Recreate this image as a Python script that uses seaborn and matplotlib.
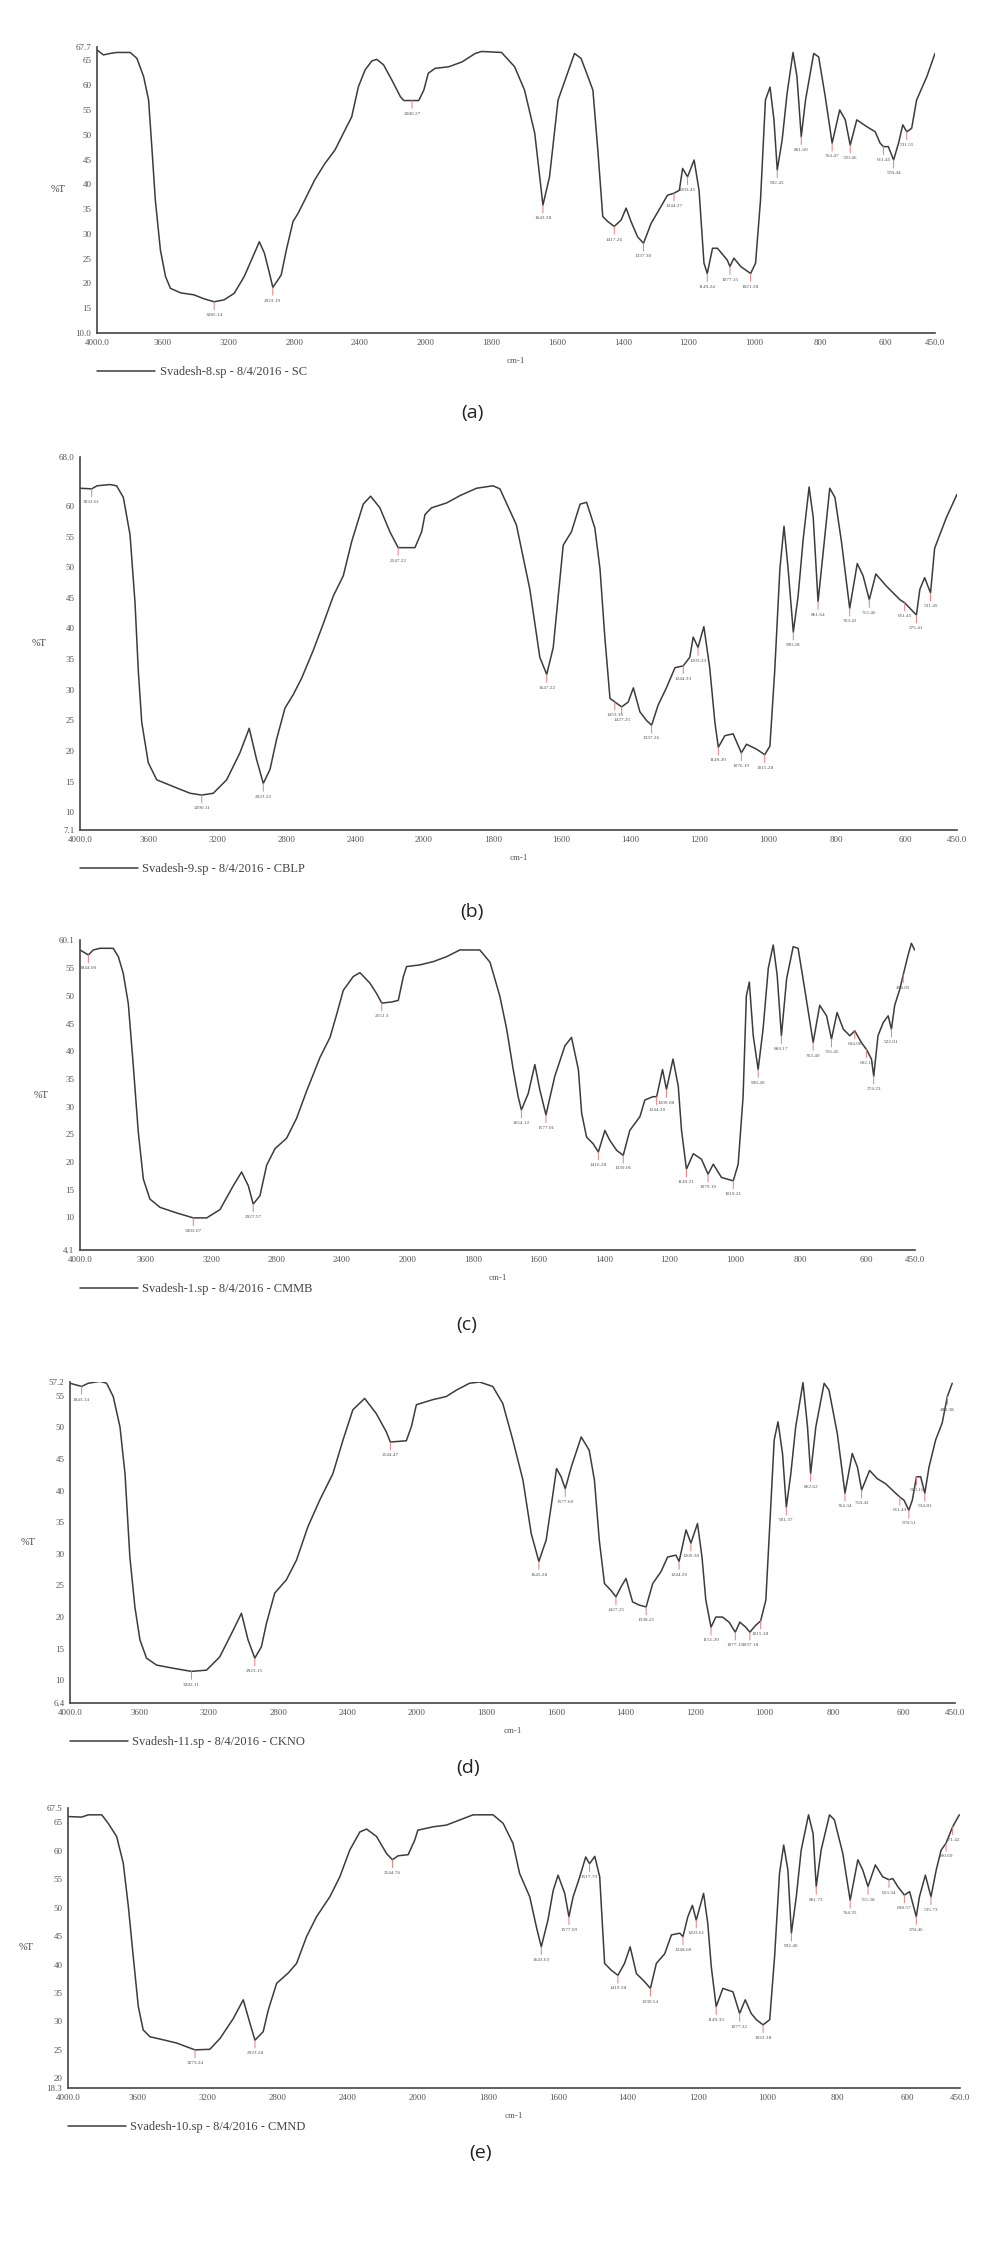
"""Five FTIR spectra (%T vs wavenumber) stacked as panels (a)-(e)"""

import numpy as np
import pandas as pd
import seaborn as sns
import matplotlib.pyplot as plt

# ---- panel (a) Svadesh-8 / SC ----
wn_a = [4000, 3961, 3920, 3880, 3798, 3757, 3716, 3686, 3665, 3645,
        3614, 3583, 3553, 3491, 3410, 3349, 3287, 3226, 3165, 3104,
        3042, 3012, 2981, 2950, 2930, 2899, 2879, 2848, 2807, 2777,
        2736, 2675, 2613, 2552, 2490, 2450, 2409, 2368, 2327, 2297,
        2256, 2205, 2154, 2133, 2083, 2042, 2011, 1992, 1971, 1930,
        1889, 1849, 1830, 1769, 1729, 1699, 1668, 1643, 1623, 1597,
        1572, 1547, 1527, 1506, 1491, 1476, 1461, 1446, 1426, 1405,
        1390, 1375, 1355, 1337, 1314, 1284, 1264, 1244, 1228, 1218,
        1203, 1183, 1168, 1153, 1143, 1127, 1112, 1082, 1074, 1062,
        1041, 1011, 996, 981, 966, 952, 940, 930, 915, 900,
        882, 870, 857, 844, 819, 804, 784, 763, 740, 723,
        708, 688, 657, 632, 617, 607, 592, 576, 561, 548,
        536, 521, 506, 475, 450]
t_a = [67.1, 66.1, 66.4, 66.6, 66.6, 65.4, 61.7, 57.0, 46.9, 36.8,
       26.7, 21.4, 19.0, 18.1, 17.7, 16.9, 16.3, 16.7, 18.0, 21.4,
       26.1, 28.4, 26.1, 22.0, 19.2, 20.7, 21.7, 26.7, 32.5, 34.1,
       36.8, 40.9, 44.2, 46.9, 51.0, 53.6, 59.7, 63.1, 64.9, 65.2,
       64.1, 61.0, 57.7, 56.9, 56.9, 56.9, 59.0, 62.4, 63.4, 63.7,
       64.7, 66.4, 66.8, 66.6, 63.7, 59.0, 50.3, 35.8, 41.5, 57.0,
       61.7, 66.4, 65.4, 61.7, 59.0, 46.9, 33.5, 32.5, 31.5, 32.8,
       35.2, 32.5, 29.4, 28.1, 32.1, 35.5, 37.8, 38.2, 38.8, 43.2,
       41.5, 44.9, 38.8, 24.1, 22.0, 27.1, 27.1, 24.7, 23.4, 25.1,
       23.4, 22.0, 24.1, 36.8, 57.0, 59.6, 53.0, 42.9, 49.0, 58.4,
       66.6, 61.7, 49.6, 57.0, 66.4, 65.7, 57.7, 48.3, 55.0, 53.0,
       47.9, 53.0, 51.6, 50.6, 48.3, 47.6, 47.6, 44.9, 48.3, 52.0,
       50.6, 51.3, 57.0, 61.7, 66.4]
peaks_a = [(3287, "3285.14"), (2930, "2923.19"), (2083, "2080.27"), (1643, "1643.38"),
           (1426, "1417.26"), (1337, "1337.30"), (1244, "1244.27"), (1203, "1203.45"),
           (1143, "1149.24"), (1074, "1077.15"), (1011, "1021.38"), (930, "932.43"),
           (857, "861.60"), (763, "764.47"), (708, "720.46"), (607, "611.45"),
           (576, "578.44"), (536, "531.55")]

# ---- panel (b) Svadesh-9 / CBLP ----
wn_b = [4000, 3932, 3901, 3826, 3787, 3748, 3709, 3680, 3661, 3641,
        3603, 3554, 3458, 3360, 3292, 3225, 3147, 3070, 3016, 2973,
        2934, 2895, 2856, 2808, 2760, 2711, 2644, 2585, 2527, 2469,
        2420, 2353, 2310, 2256, 2198, 2150, 2052, 2013, 1997, 1978,
        1934, 1895, 1847, 1799, 1779, 1731, 1692, 1663, 1643, 1624,
        1595, 1571, 1546, 1527, 1503, 1488, 1474, 1459, 1445, 1425,
        1406, 1391, 1372, 1353, 1338, 1319, 1295, 1270, 1246, 1227,
        1217, 1203, 1186, 1169, 1154, 1144, 1125, 1101, 1077, 1062,
        1033, 1009, 994, 980, 965, 953, 941, 926, 912, 897,
        880, 868, 854, 839, 820, 805, 786, 762, 740, 723,
        705, 686, 655, 616, 602, 587, 568, 558, 544, 527,
        515, 481, 450]
t_b = [62.9, 62.8, 63.3, 63.5, 63.3, 61.4, 55.3, 44.2, 33.1, 24.7,
       18.1, 15.3, 14.2, 13.1, 12.8, 13.1, 15.3, 19.7, 23.7, 18.6,
       14.7, 17.0, 22.0, 27.0, 29.2, 31.9, 36.4, 40.8, 45.3, 48.6,
       54.2, 60.3, 61.6, 59.7, 55.8, 53.2, 53.2, 55.8, 58.6, 59.7,
       60.5, 61.7, 62.9, 63.3, 62.8, 56.9, 46.4, 35.3, 32.5, 36.9,
       53.6, 55.8, 60.3, 60.6, 56.4, 49.7, 38.6, 28.6, 28.0, 27.2,
       28.0, 30.3, 26.4, 25.0, 24.2, 27.5, 30.3, 33.6, 33.9, 35.3,
       38.6, 36.9, 40.3, 33.6, 24.7, 20.6, 22.5, 22.8, 19.7, 21.1,
       20.3, 19.4, 20.8, 33.1, 49.7, 56.7, 49.7, 39.4, 45.3, 54.7,
       63.1, 58.1, 44.4, 52.5, 62.9, 61.4, 54.2, 43.3, 50.6, 48.6,
       44.7, 48.9, 46.9, 44.7, 44.2, 43.3, 42.2, 46.4, 48.3, 45.8,
       53.1, 58.1, 61.9]
peaks_b = [(3932, "3933.61"), (3292, "3290.11"), (2934, "2923.22"), (2150, "2147.22"),
           (1643, "1647.22"), (1445, "1453.35"), (1425, "1427.25"), (1338, "1337.26"),
           (1246, "1244.33"), (1203, "1203.23"), (1144, "1149.20"), (1077, "1076.19"),
           (1009, "1015.28"), (926, "930.28"), (854, "861.64"), (762, "763.42"),
           (705, "712.46"), (602, "611.45"), (568, "575.41"), (527, "531.45")]

# ---- panel (c) Svadesh-1 / CMMB ----
wn_c = [4000, 3949, 3919, 3878, 3797, 3766, 3736, 3705, 3675, 3644,
        3613, 3573, 3511, 3410, 3308, 3226, 3145, 3064, 3013, 2972,
        2942, 2901, 2860, 2809, 2738, 2677, 2616, 2534, 2473, 2432,
        2392, 2331, 2290, 2229, 2188, 2157, 2096, 2056, 2025, 2005,
        1962, 1921, 1880, 1840, 1779, 1748, 1718, 1697, 1677, 1662,
        1652, 1631, 1611, 1596, 1577, 1550, 1519, 1499, 1478, 1468,
        1453, 1433, 1417, 1397, 1382, 1361, 1341, 1321, 1290, 1275,
        1250, 1239, 1221, 1209, 1189, 1173, 1163, 1148, 1127, 1102,
        1082, 1066, 1041, 1005, 990, 975, 965, 956, 944, 929,
        914, 898, 883, 871, 858, 842, 822, 807, 787, 761,
        741, 720, 705, 688, 669, 649, 634, 614, 598, 583,
        576, 563, 547, 532, 522, 512, 496, 486, 471, 461,
        451]
t_c = [58.3, 57.4, 58.3, 58.6, 58.6, 57.1, 54.1, 48.6, 37.6, 25.4,
       16.9, 13.3, 11.8, 10.8, 9.9, 9.9, 11.4, 15.7, 18.2, 15.7,
       12.4, 13.9, 19.4, 22.4, 24.3, 27.9, 32.8, 38.9, 42.5, 46.7,
       51.0, 53.5, 54.2, 52.3, 50.4, 48.7, 48.9, 49.2, 53.5, 55.3,
       55.6, 56.2, 57.1, 58.3, 58.3, 56.1, 50.0, 44.0, 36.7, 31.8,
       29.4, 32.4, 37.6, 33.1, 28.5, 35.5, 41.0, 42.5, 36.7, 28.8,
       24.5, 23.3, 21.8, 25.7, 23.9, 22.1, 21.2, 25.7, 28.2, 31.2,
       31.8, 31.8, 36.7, 33.1, 38.6, 33.7, 25.7, 18.7, 21.5, 20.5,
       17.8, 19.6, 17.2, 16.6, 19.6, 31.8, 50.0, 52.5, 42.8, 36.7,
       44.0, 55.0, 59.2, 53.8, 42.8, 53.1, 58.9, 58.6, 51.3, 41.6,
       48.3, 46.4, 42.2, 47.0, 44.0, 42.8, 43.7, 41.6, 40.3, 38.6,
       35.5, 42.8, 45.2, 46.4, 44.0, 48.3, 51.3, 53.8, 57.4, 59.5,
       58.3]
peaks_c = [(3949, "3944.00"), (3308, "3303.07"), (2942, "2927.57"), (2157, "2151.3"),
           (1652, "1654.12"), (1577, "1577.01"), (1417, "1416.28"), (1341, "1339.06"),
           (1239, "1244.20"), (1209, "1209.08"), (1148, "1149.21"), (1082, "1079.10"),
           (1005, "1019.21"), (929, "930.40"), (858, "860.17"), (761, "763.40"),
           (705, "716.45"), (634, "634.06"), (598, "602.10"), (576, "574.23"),
           (522, "522.01"), (486, "494.05")]

# ---- panel (d) Svadesh-11 / CKNO ----
wn_d = [4000, 3933, 3895, 3827, 3789, 3751, 3712, 3683, 3655, 3626,
        3597, 3559, 3501, 3405, 3300, 3213, 3137, 3060, 3012, 2974,
        2935, 2897, 2868, 2820, 2753, 2695, 2629, 2561, 2485, 2427,
        2370, 2302, 2235, 2177, 2154, 2062, 2033, 2004, 1955, 1916,
        1887, 1849, 1820, 1782, 1753, 1724, 1695, 1671, 1649, 1628,
        1614, 1598, 1585, 1573, 1556, 1527, 1504, 1489, 1475, 1460,
        1441, 1427, 1412, 1398, 1379, 1360, 1340, 1321, 1297, 1278,
        1254, 1245, 1225, 1211, 1192, 1179, 1168, 1153, 1139, 1120,
        1101, 1083, 1070, 1053, 1041, 1026, 1010, 995, 981, 971,
        960, 947, 936, 923, 909, 888, 875, 866, 851, 827,
        813, 789, 767, 746, 731, 719, 696, 674, 650, 621,
        609, 597, 583, 573, 561, 549, 537, 525, 506, 487,
        472, 458]
t_d = [57.0, 56.5, 57.0, 57.3, 57.0, 54.9, 50.1, 42.7, 29.5, 21.6,
       16.4, 13.5, 12.4, 11.9, 11.4, 11.6, 13.7, 17.9, 20.6, 16.4,
       13.5, 15.3, 19.0, 23.8, 25.9, 29.0, 34.3, 38.5, 42.7, 48.0,
       52.8, 54.6, 52.2, 49.3, 47.7, 47.9, 50.1, 53.6, 54.4, 54.9,
       55.9, 57.0, 57.2, 56.5, 53.8, 48.0, 41.7, 33.2, 28.8, 32.2,
       37.4, 43.5, 42.2, 40.3, 43.7, 48.5, 46.4, 41.7, 32.2, 25.3,
       24.2, 23.2, 24.8, 26.1, 22.4, 21.9, 21.6, 25.3, 27.2, 29.5,
       29.8, 28.8, 33.8, 31.7, 34.8, 29.5, 22.7, 18.4, 20.0, 20.0,
       19.2, 17.6, 19.2, 18.4, 17.6, 18.6, 19.4, 22.7, 37.4, 48.0,
       50.9, 45.9, 37.4, 42.7, 50.1, 57.1, 50.1, 42.7, 50.1, 57.0,
       55.9, 49.0, 39.6, 45.9, 43.7, 40.1, 43.2, 41.9, 41.1, 39.6,
       39.0, 38.5, 36.9, 38.5, 42.2, 42.2, 39.6, 43.7, 48.0, 50.7,
       54.9, 57.0]
peaks_d = [(3933, "3943.14"), (3300, "3282.11"), (2935, "2923.15"), (2154, "2144.47"),
           (1649, "1645.28"), (1573, "1577.60"), (1427, "1427.25"), (1340, "1338.21"),
           (1245, "1244.20"), (1211, "1209.30"), (1153, "1151.20"), (1083, "1077.15"),
           (1041, "1037.18"), (1010, "1015.18"), (936, "931.37"), (866, "862.62"),
           (767, "764.34"), (719, "718.42"), (609, "611.43"), (583, "578.51"),
           (561, "560.11"), (537, "534.81"), (472, "480.38")]

# ---- panel (e) Svadesh-10 / CMND ----
wn_e = [4000, 3922, 3884, 3807, 3770, 3722, 3684, 3655, 3627, 3598,
        3570, 3531, 3446, 3379, 3274, 3189, 3131, 3055, 2998, 2960,
        2931, 2884, 2855, 2807, 2741, 2693, 2636, 2579, 2503, 2446,
        2389, 2331, 2293, 2236, 2179, 2145, 2113, 2055, 2017, 2000,
        1956, 1918, 1880, 1842, 1785, 1756, 1728, 1709, 1680, 1661,
        1647, 1628, 1613, 1599, 1580, 1568, 1556, 1537, 1520, 1509,
        1494, 1480, 1466, 1447, 1428, 1409, 1393, 1375, 1352, 1335,
        1318, 1294, 1275, 1251, 1242, 1228, 1215, 1204, 1183, 1171,
        1161, 1147, 1128, 1099, 1080, 1064, 1047, 1032, 1013, 994,
        980, 966, 954, 942, 932, 918, 904, 883, 870, 861,
        847, 823, 809, 785, 764, 742, 728, 713, 692, 671,
        653, 642, 628, 609, 594, 575, 566, 549, 533, 518,
        504, 490, 471, 452]
t_e = [66.0, 65.9, 66.3, 66.3, 64.8, 62.5, 57.8, 50.2, 41.4, 32.6,
       28.5, 27.3, 26.7, 26.2, 25.0, 25.1, 27.0, 30.5, 33.8, 29.7,
       26.7, 28.2, 32.0, 36.7, 38.5, 40.2, 44.9, 48.4, 51.9, 55.4,
       60.1, 63.3, 63.8, 62.5, 59.5, 58.4, 59.1, 59.3, 61.9, 63.6,
       64.2, 64.5, 65.4, 66.3, 66.3, 64.8, 61.3, 56.0, 51.9, 46.6,
       43.1, 47.8, 53.0, 55.7, 52.5, 48.4, 51.9, 55.4, 58.9, 57.7,
       59.0, 55.4, 40.2, 39.0, 38.1, 40.2, 43.1, 38.4, 37.0, 35.8,
       40.2, 41.9, 45.2, 45.5, 44.9, 48.4, 50.4, 47.8, 52.5, 47.2,
       39.6, 32.6, 35.8, 35.2, 31.4, 33.8, 31.4, 30.3, 29.4, 30.3,
       41.4, 56.0, 61.0, 56.6, 45.5, 51.9, 60.1, 66.3, 63.0, 53.7,
       60.1, 66.3, 65.4, 59.5, 51.3, 58.4, 56.6, 53.7, 57.5, 55.4,
       54.9, 55.1, 53.7, 52.2, 52.8, 48.4, 51.9, 55.7, 51.9, 56.6,
       60.1, 61.3, 64.2, 66.3]
peaks_e = [(3274, "3273.24"), (2931, "2923.28"), (2145, "2144.76"), (1647, "1643.63"),
           (1568, "1577.09"), (1509, "1517.79"), (1428, "1419.38"), (1335, "1330.54"),
           (1242, "1248.60"), (1204, "1203.61"), (1147, "1149.33"), (1080, "1077.32"),
           (1013, "1022.38"), (932, "932.40"), (861, "861.73"), (764, "764.35"),
           (713, "715.38"), (653, "653.34"), (609, "608.57"), (575, "578.46"),
           (533, "535.73"), (490, "490.69"), (471, "471.42")]

legends = ["Svadesh-8.sp - 8/4/2016 - SC",
           "Svadesh-9.sp - 8/4/2016 - CBLP",
           "Svadesh-1.sp - 8/4/2016 - CMMB",
           "Svadesh-11.sp - 8/4/2016 - CKNO",
           "Svadesh-10.sp - 8/4/2016 - CMND"]
tags = ["(a)", "(b)", "(c)", "(d)", "(e)"]
ylims = [(10.0, 67.7), (7.1, 68.0), (4.1, 60.1), (6.4, 57.2), (18.3, 67.5)]
yticks = [list(range(15, 70, 5)), list(range(10, 65, 5)), list(range(10, 60, 5)),
          list(range(10, 60, 5)), list(range(20, 70, 5))]
xticks = [4000, 3600, 3200, 2800, 2400, 2000, 1800, 1600, 1400, 1200, 1000, 800, 600, 450]
xticklabels = ["4000.0", "3600", "3200", "2800", "2400", "2000", "1800",
               "1600", "1400", "1200", "1000", "800", "600", "450.0"]

# layout in pixels: (left, top, right, bottom) of each plot box, and tag centre
W, H = 999, 2268
boxes = [(97, 47, 935, 333), (80, 457, 957, 830), (80, 940, 915, 1250),
         (70, 1382, 955, 1703), (68, 1808, 960, 2088)]
tag_pos = [(472, 413), (472, 912), (467, 1325), (468, 1768), (480, 2153)]

SERIF = ["Liberation Serif", "DejaVu Serif"]
SPLIT = 2000.0  # below 2000 cm-1 the axis is stretched 2x, as in the instrument printout


def fwd(x):
    x = np.asarray(x, dtype=float)
    return np.where(x >= SPLIT, x, 2 * x - SPLIT)


def inv(t):
    t = np.asarray(t, dtype=float)
    return np.where(t >= SPLIT, t, (t + SPLIT) / 2)


def panel(fig, box, wn, t, ylim, yt, peaks, legend_text, tag, tag_xy):
    l, top, r, b = box
    hpx = b - top
    ax = fig.add_axes([l / W, 1 - b / H, (r - l) / W, hpx / H])
    df = pd.DataFrame({"wn": wn, "T": t})
    sns.lineplot(data=df, x="wn", y="T", sort=False, estimator=None,
                 color="#3c3c3c", lw=1.1, ax=ax, label=legend_text)
    ax.set_xscale("function", functions=(fwd, inv))
    ax.set_xlim(4000, 450)
    ax.set_ylim(*ylim)

    ax.set_xticks(xticks)
    ax.set_xticklabels(xticklabels)
    ticks = [ylim[0]] + [v for v in yt if ylim[0] < v < ylim[1]] + [ylim[1]]
    labels = [f"{ylim[0]:.1f}"] + [str(v) for v in yt if ylim[0] < v < ylim[1]] + [f"{ylim[1]:.1f}"]
    ax.set_yticks(ticks)
    ax.set_yticklabels(labels)
    ax.minorticks_off()
    ax.tick_params(direction="in", length=3, width=0.8, colors="#555",
                   labelsize=6.5, pad=4)
    for s in ["top", "right"]:
        ax.spines[s].set_visible(False)
    for s in ["left", "bottom"]:
        ax.spines[s].set_color("#444")
        ax.spines[s].set_linewidth(1.2)

    ax.set_ylabel("%T", rotation=0, fontsize=7.5, color="#444", va="center")
    ax.yaxis.set_label_coords(-0.047, 0.5)
    ax.set_xlabel("cm-1", fontsize=6.5, color="#555", va="top")
    ax.xaxis.set_label_coords(0.5, -24 / hpx)

    # peak picks: small red drop line with the wavenumber below
    xs, ys = np.array(wn)[::-1], np.array(t)[::-1]
    for w, lab in peaks:
        y = np.interp(w, xs, ys)
        ax.annotate(lab, xy=(w, y), xytext=(0, -8), textcoords="offset points",
                    ha="center", va="top", fontsize=3.8, color="#555",
                    arrowprops=dict(arrowstyle="-", color="#e08080", lw=0.7,
                                    shrinkA=0, shrinkB=0))

    ax.legend(loc="upper left", bbox_to_anchor=(0, -33 / hpx), frameon=False,
              handlelength=4.6, handletextpad=0.4, borderpad=0, borderaxespad=0,
              prop={"family": SERIF, "size": 9}, labelcolor="#444")

    fig.text(tag_xy[0] / W, 1 - tag_xy[1] / H, tag, ha="center", va="center",
             fontsize=14, family="Open Sans", color="#222")
    return ax


def main():
    sns.set_style("white")
    plt.rcParams["font.family"] = SERIF
    fig = plt.figure(figsize=(W / 100, H / 100), dpi=100)
    data = [(wn_a, t_a, peaks_a), (wn_b, t_b, peaks_b), (wn_c, t_c, peaks_c),
            (wn_d, t_d, peaks_d), (wn_e, t_e, peaks_e)]
    for i, (wn, t, pk) in enumerate(data):
        panel(fig, boxes[i], wn, t, ylims[i], yticks[i], pk, legends[i], tags[i], tag_pos[i])
    fig.savefig("out.png", dpi=100)
    plt.close(fig)


main()
